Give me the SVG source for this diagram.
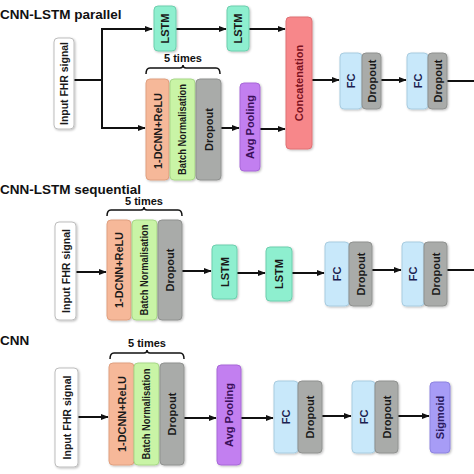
<svg xmlns="http://www.w3.org/2000/svg" width="474" height="474" viewBox="0 0 474 474">
<defs>
<marker id="ah" viewBox="0 0 10 10" refX="9" refY="5" markerWidth="4" markerHeight="4" orient="auto" markerUnits="strokeWidth"><path d="M0,1 L10,5 L0,9 z" fill="#111"/></marker>
<filter id="sh" x="-20%" y="-20%" width="140%" height="140%"><feDropShadow dx="1" dy="1" stdDeviation="0.8" flood-color="#000" flood-opacity="0.25"/></filter>
</defs>
<style>
.t{font-family:"Liberation Sans","Open Sans",sans-serif;font-weight:bold;font-size:13.5px;fill:#111}
.l{font-family:"Liberation Sans","Open Sans",sans-serif;font-weight:bold;font-size:11px;fill:#1a1a1a;text-anchor:middle;dominant-baseline:central}
.b{stroke-width:1;filter:url(#sh)}
.in{fill:#ffffff;stroke:#bdbdbd}
.lstm{fill:#8eefcf;stroke:#6dcfae}
.dc{fill:#f6b899;stroke:#e0a080}
.bn{fill:#c9f4a6;stroke:#a8d888}
.do{fill:#a9aba9;stroke:#909290}
.avg{fill:#c27ff0;stroke:#a868d8}
.cat{fill:#f7878a;stroke:#e07074}
.fc{fill:#c8e8fa;stroke:#a8cce0}
.sg{fill:#a79cf6;stroke:#8e84e0}
.c{fill:none;stroke:#111;stroke-width:2}
.a{marker-end:url(#ah)}
.br{fill:none;stroke:#111;stroke-width:1.5}
.tm{font-family:"Liberation Sans","Open Sans",sans-serif;font-weight:bold;font-size:11px;fill:#111;text-anchor:middle}
</style>

<!-- Panel 1: CNN-LSTM parallel -->
<text class="t" x="0" y="19">CNN-LSTM parallel</text>
<g id="connectors1">
<path class="c" d="M74,80 H102 V29 H152" marker-end="url(#ah)"/>
<path class="c a" d="M102,80 V128 H145"/>
<path class="c a" d="M176,29 H226"/>
<path class="c a" d="M249,29 H285"/>
<path class="c a" d="M221,128 H239"/>
<path class="c a" d="M260,129 H285"/>
<path class="c a" d="M312,80 H339"/>
<path class="c a" d="M381,80 H406"/>
<path class="c" d="M447,81 H474"/>
<path class="br" d="M146,74 Q146,68 150,68 H180 Q183,68 183,65 Q183,68 186,68 H216 Q220,68 220,74"/>
<text class="tm" x="183" y="62">5 times</text>
</g>
<g id="p1-input"><rect class="b in" x="54" y="38" width="20" height="91" rx="4"/><text class="l" transform="translate(64,83.5) rotate(-90)" textLength="83" lengthAdjust="spacingAndGlyphs">Input FHR signal</text></g>
<g id="p1-lstm1"><rect class="b lstm" x="154" y="6" width="22" height="45" rx="4"/><text class="l" transform="translate(165,28.5) rotate(-90)">LSTM</text></g>
<g id="p1-lstm2"><rect class="b lstm" x="227" y="6" width="22" height="45" rx="4"/><text class="l" transform="translate(238,28.5) rotate(-90)">LSTM</text></g>
<g id="p1-dcnn"><rect class="b dc" x="146" y="79" width="23" height="101" rx="4"/><text class="l" transform="translate(157.5,131) rotate(-90)" textLength="76" lengthAdjust="spacingAndGlyphs">1-DCNN+ReLU</text></g>
<g id="p1-bn"><rect class="b bn" x="170" y="79" width="25" height="101" rx="4"/><text class="l" style="font-size:10px" transform="translate(182.5,129.5) rotate(-90)" textLength="91" lengthAdjust="spacingAndGlyphs">Batch Normalisation</text></g>
<g id="p1-do"><rect class="b do" x="196" y="79" width="25" height="101" rx="4"/><text class="l" transform="translate(208.5,129.5) rotate(-90)">Dropout</text></g>
<g id="p1-avg"><rect class="b avg" x="240" y="83" width="20" height="88" rx="4"/><text class="l" style="fill:#3a0f5a" transform="translate(250,127) rotate(-90)">Avg Pooling</text></g>
<g id="p1-cat"><rect class="b cat" x="286" y="17" width="26" height="132" rx="4"/><text class="l" style="fill:#7a1020" transform="translate(299,83) rotate(-90)">Concatenation</text></g>
<g id="p1-fc1"><rect class="b fc" x="340" y="53" width="22" height="56" rx="4"/><text class="l" style="fill:#1a2050" transform="translate(351,81) rotate(-90)">FC</text></g>
<g id="p1-do1"><rect class="b do" x="362" y="53" width="19" height="56" rx="4"/><text class="l" transform="translate(371.5,81) rotate(-90)">Dropout</text></g>
<g id="p1-fc2"><rect class="b fc" x="407" y="53" width="21" height="56" rx="4"/><text class="l" style="fill:#1a2050" transform="translate(417.5,81) rotate(-90)">FC</text></g>
<g id="p1-do2"><rect class="b do" x="428" y="53" width="19" height="56" rx="4"/><text class="l" transform="translate(437.5,81) rotate(-90)">Dropout</text></g>

<!-- Panel 2: CNN-LSTM sequential -->
<text class="t" x="0" y="194">CNN-LSTM sequential</text>
<g id="connectors2">
<path class="c a" d="M76,272 H106"/>
<path class="c a" d="M182,271 H211"/>
<path class="c a" d="M237,273 H265"/>
<path class="c a" d="M292,273 H324"/>
<path class="c a" d="M372,270 H401"/>
<path class="c" d="M447,270 H474"/>
<path class="br" d="M107,216 Q107,210 111,210 H141 Q144,210 144,207 Q144,210 147,210 H178 Q182,210 182,216"/>
<text class="tm" x="144" y="205">5 times</text>
</g>
<g id="p2-input"><rect class="b in" x="55" y="222" width="21" height="98" rx="4"/><text class="l" transform="translate(65.5,271) rotate(-90)" textLength="84" lengthAdjust="spacingAndGlyphs">Input FHR signal</text></g>
<g id="p2-dcnn"><rect class="b dc" x="107" y="220" width="24" height="100" rx="4"/><text class="l" transform="translate(119,270) rotate(-90)" textLength="76" lengthAdjust="spacingAndGlyphs">1-DCNN+ReLU</text></g>
<g id="p2-bn"><rect class="b bn" x="132" y="220" width="25" height="100" rx="4"/><text class="l" style="font-size:10px" transform="translate(144.5,270) rotate(-90)" textLength="91" lengthAdjust="spacingAndGlyphs">Batch Normalisation</text></g>
<g id="p2-do"><rect class="b do" x="158" y="220" width="24" height="100" rx="4"/><text class="l" transform="translate(170,270) rotate(-90)">Dropout</text></g>
<g id="p2-lstm1"><rect class="b lstm" x="212" y="245" width="25" height="54" rx="4"/><text class="l" transform="translate(224.5,272) rotate(-90)">LSTM</text></g>
<g id="p2-lstm2"><rect class="b lstm" x="266" y="247" width="26" height="54" rx="4"/><text class="l" transform="translate(279,274) rotate(-90)">LSTM</text></g>
<g id="p2-fc1"><rect class="b fc" x="325" y="242" width="24" height="64" rx="4"/><text class="l" style="fill:#1a2050" transform="translate(337,274) rotate(-90)">FC</text></g>
<g id="p2-do1"><rect class="b do" x="349" y="242" width="23" height="64" rx="4"/><text class="l" transform="translate(360.5,274) rotate(-90)">Dropout</text></g>
<g id="p2-fc2"><rect class="b fc" x="402" y="242" width="22" height="64" rx="4"/><text class="l" style="fill:#1a2050" transform="translate(413,274) rotate(-90)">FC</text></g>
<g id="p2-do2"><rect class="b do" x="424" y="242" width="23" height="64" rx="4"/><text class="l" transform="translate(435.5,274) rotate(-90)">Dropout</text></g>

<!-- Panel 3: CNN -->
<text class="t" x="0" y="345">CNN</text>
<g id="connectors3">
<path class="c a" d="M78,417 H108"/>
<path class="c a" d="M184,418 H216"/>
<path class="c a" d="M241,418 H273"/>
<path class="c a" d="M322,416 H351"/>
<path class="c a" d="M398,416 H429"/>
<path class="br" d="M110,359 Q110,353 114,353 H144 Q147,353 147,350 Q147,353 150,353 H180 Q184,353 184,359"/>
<text class="tm" x="147" y="347">5 times</text>
</g>
<g id="p3-input"><rect class="b in" x="55" y="368" width="23" height="99" rx="4"/><text class="l" transform="translate(66.5,417.5) rotate(-90)" textLength="84" lengthAdjust="spacingAndGlyphs">Input FHR signal</text></g>
<g id="p3-dcnn"><rect class="b dc" x="109" y="363" width="25" height="102" rx="4"/><text class="l" transform="translate(121.5,414) rotate(-90)" textLength="76" lengthAdjust="spacingAndGlyphs">1-DCNN+ReLU</text></g>
<g id="p3-bn"><rect class="b bn" x="134" y="363" width="25" height="102" rx="4"/><text class="l" style="font-size:10px" transform="translate(146.5,414) rotate(-90)" textLength="91" lengthAdjust="spacingAndGlyphs">Batch Normalisation</text></g>
<g id="p3-do"><rect class="b do" x="160" y="363" width="24" height="102" rx="4"/><text class="l" transform="translate(172,414) rotate(-90)">Dropout</text></g>
<g id="p3-avg"><rect class="b avg" x="217" y="365" width="24" height="100" rx="4"/><text class="l" style="fill:#3a0f5a" transform="translate(229,415) rotate(-90)">Avg Pooling</text></g>
<g id="p3-fc1"><rect class="b fc" x="274" y="381" width="24" height="72" rx="4"/><text class="l" style="fill:#1a2050" transform="translate(286,417) rotate(-90)">FC</text></g>
<g id="p3-do1"><rect class="b do" x="298" y="381" width="24" height="72" rx="4"/><text class="l" transform="translate(310,417) rotate(-90)">Dropout</text></g>
<g id="p3-fc2"><rect class="b fc" x="352" y="381" width="23" height="72" rx="4"/><text class="l" style="fill:#1a2050" transform="translate(363.5,417) rotate(-90)">FC</text></g>
<g id="p3-do2"><rect class="b do" x="375" y="381" width="23" height="72" rx="4"/><text class="l" transform="translate(386.5,417) rotate(-90)">Dropout</text></g>
<g id="p3-sig"><rect class="b sg" x="430" y="382" width="20" height="71" rx="4"/><text class="l" style="fill:#2a1a60" transform="translate(440,417.5) rotate(-90)">Sigmoid</text></g>
</svg>
